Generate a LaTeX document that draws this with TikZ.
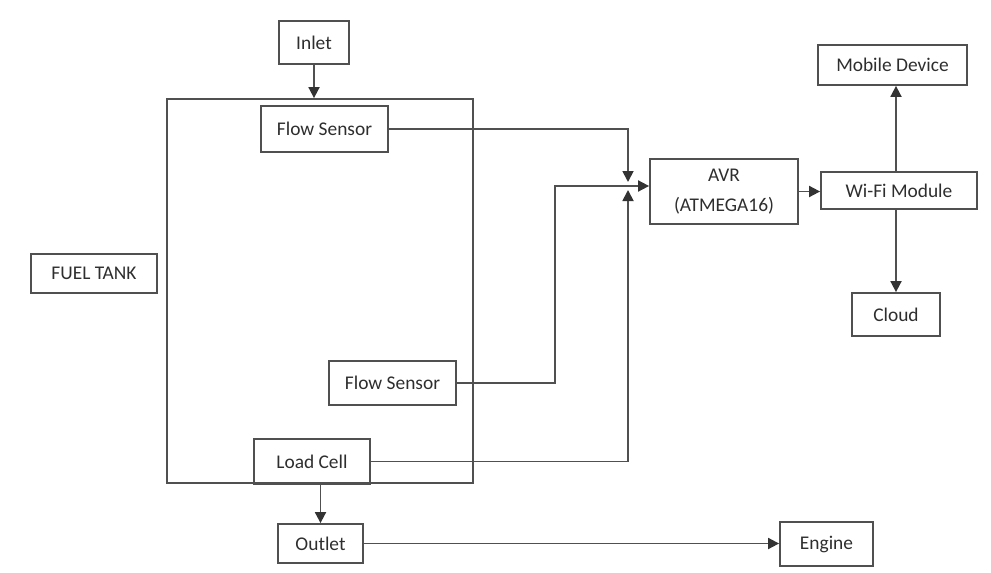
\documentclass[tikz,border=0pt]{standalone}
\usepackage{fontspec}
\setmainfont{Carlito}
\usepackage{xcolor}
\usepackage{tikz}
\usetikzlibrary{arrows.meta}
\definecolor{lc}{HTML}{505050}
\definecolor{tc}{HTML}{2E2E2E}
\tikzset{
  bx/.style={draw=lc,line width=0.9pt,text=tc,inner sep=0pt,align=center,font=\fontsize{9.7}{11.4}\selectfont},
  ar/.style={draw=lc,line width=0.9pt,-{Triangle[length=5.5pt,width=5.5pt,color=black!80]}},
  ln/.style={draw=lc,line width=0.9pt}
}
\begin{document}
\begin{tikzpicture}[x=0.5pt,y=-0.5pt]
\useasboundingbox (0,0) rectangle (991,573);
\node[bx,minimum width=153pt,minimum height=192pt] (tank) at (320,291) {};
\node[bx,minimum width=63pt,minimum height=19.5pt] (ft) at (94,273.5) {FUEL TANK};
\node[bx,minimum width=35pt,minimum height=21.5pt] (inlet) at (314,42.5) {Inlet};
\node[bx,minimum width=63.5pt,minimum height=23pt] (fs1) at (324.5,129) {Flow Sensor};
\node[bx,minimum width=63.5pt,minimum height=22pt] (fs2) at (392.5,383) {Flow Sensor};
\node[bx,minimum width=58pt,minimum height=22.5pt] (load) at (312,461.5) {Load Cell};
\node[bx,minimum width=42.5pt,minimum height=19.5pt] (outlet) at (320.5,543.5) {Outlet};
\node[bx,minimum width=46.5pt,minimum height=22pt] (engine) at (826.5,544) {Engine};
\node[bx,minimum width=74pt,minimum height=32.5pt] (avr) at (724,191.5) {AVR\\[3.5pt](ATMEGA16)};
\node[bx,minimum width=78pt,minimum height=18.5pt] (wifi) at (899,190.5) {Wi-Fi Module};
\node[bx,minimum width=74.5pt,minimum height=20pt] (mob) at (892.5,65) {Mobile Device};
\node[bx,minimum width=44pt,minimum height=21.5pt] (cloud) at (896,314.5) {Cloud};
% junction in front of the AVR
\coordinate (jt) at (628,182);
\coordinate (jb) at (628,190);
\coordinate (ja) at (555,186);
\draw[ar] (inlet) -- (inlet |- tank.north);
\draw[ar] (fs1.east) -| (jt);
\draw[ar] (load.east) -| (jb);
\draw[ar] (fs2.east) -| (ja) -- (ja -| avr.west);
\draw[ar] (avr.east) -- (avr.east -| wifi.west);
\draw[ar] (wifi.north -| cloud.north) -- (mob.south -| cloud.north);
\draw[ar] (wifi.south -| cloud.north) -- (cloud.north);
\draw[ar] (outlet.north |- load.south) -- (outlet.north);
\draw[ar] (outlet.east) -- (outlet.east -| engine.west);
\end{tikzpicture}
\end{document}
